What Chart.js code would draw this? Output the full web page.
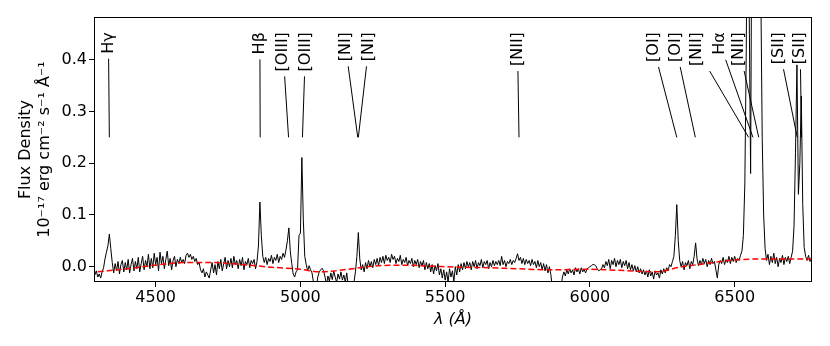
<!DOCTYPE html>
<html>
<head>
<meta charset="utf-8">
<script src="https://cdn.jsdelivr.net/npm/chart.js@4.4.1/dist/chart.umd.min.js"></script>
<style>
  html, body { margin: 0; padding: 0; background: #fff; }
  #wrap { width: 830px; height: 346px; position: relative; }
</style>
</head>
<body>
<div id="wrap"><canvas id="spec"></canvas></div>
<script>
// Spectrum sampled on a regular wavelength grid (Angstrom), 20 values per 100 A row
const WAVE_START = 4285;
const WAVE_STEP = 5;
const FLUX = [
  -0.012, -0.016, -0.008, -0.02, -0.014, -0.022, -0.01, -0.002, 0.015, 0.028, 0.04, 0.063, 0.035, 0.008, -0.012, 0.006, -0.008, 0.01, -0.014, 0.004,   // 4285
  0.012, -0.01, 0.008, -0.006, 0.014, -0.012, 0.004, 0.016, -0.008, 0.01, -0.004, 0.018, -0.01, 0.006, 0.02, -0.006, 0.012, 0.0, 0.024, -0.004,        // 4385
  0.016, -0.002, 0.026, 0.004, 0.018, -0.008, 0.028, 0.006, 0.02, -0.004, 0.014, 0.03, 0.002, 0.016, -0.006, 0.012, 0.02, 0.0, 0.014, 0.006,          // 4485
  0.018, 0.008, 0.014, 0.006, 0.022, 0.026, 0.018, 0.024, 0.014, 0.02, 0.01, 0.016, 0.004, 0.008, -0.006, -0.012, -0.004, -0.02, -0.01, -0.016,        // 4585
  -0.022, -0.006, 0.008, -0.012, 0.004, -0.016, 0.01, -0.004, 0.014, -0.008, 0.006, 0.018, -0.004, 0.012, 0.0, 0.016, -0.002, 0.02, 0.004, 0.012,      // 4685
  -0.004, 0.014, 0.002, 0.018, -0.006, 0.01, 0.004, 0.016, -0.002, 0.012, 0.006, 0.014, -0.004, 0.01, 0.04, 0.125, 0.06, 0.02, 0.008, 0.018,           // 4785
  0.004, 0.016, 0.01, 0.022, 0.006, 0.018, 0.012, 0.024, 0.008, 0.02, 0.014, 0.026, 0.018, 0.032, 0.05, 0.075, 0.03, 0.006, -0.014, -0.02,             // 4885
  -0.01, -0.006, 0.06, 0.065, 0.211, 0.09, 0.02, 0.004, -0.008, 0.002, -0.006, -0.012, -0.03, -0.045, -0.04, -0.02, -0.01, -0.006, -0.003, -0.008,     // 4985
  -0.02, -0.035, -0.018, -0.028, -0.012, -0.025, -0.008, -0.02, -0.03, -0.014, -0.024, -0.01, -0.026, -0.016, -0.03, -0.012, -0.035, -0.04, -0.028, -0.04, // 5085
  -0.03, -0.01, 0.02, 0.066, 0.015, -0.006, 0.004, -0.01, 0.008, -0.004, 0.012, 0.0, 0.01, -0.002, 0.014, 0.004, 0.016, 0.002, 0.018, 0.008,          // 5185
  0.02, 0.006, 0.022, 0.012, 0.018, 0.008, 0.024, 0.014, 0.02, 0.006, 0.016, 0.01, 0.022, 0.004, 0.014, 0.008, 0.018, 0.002, 0.012, 0.006,             // 5285
  0.016, 0.0, 0.012, 0.004, 0.014, -0.002, 0.01, 0.002, 0.012, -0.006, 0.008, -0.004, 0.006, -0.01, 0.004, -0.014, 0.002, -0.008, 0.006, -0.016,       // 5385
  -0.004, -0.022, -0.006, -0.026, -0.01, -0.03, -0.004, -0.02, -0.008, -0.028, 0.0, -0.016, 0.004, -0.01, 0.006, -0.006, 0.008, -0.004, 0.01, 0.0,     // 5485
  0.008, -0.006, 0.01, 0.0, 0.012, -0.004, 0.008, 0.002, 0.014, -0.002, 0.01, 0.004, 0.012, -0.004, 0.008, 0.0, 0.012, 0.002, 0.01, 0.004,             // 5585
  0.012, 0.002, 0.02, 0.004, 0.012, 0.0, 0.01, 0.006, 0.014, 0.004, 0.012, 0.008, 0.016, 0.025, 0.012, 0.018, 0.006, 0.016, 0.004, 0.014,              // 5685
  0.006, 0.012, 0.002, 0.014, 0.004, 0.01, -0.002, 0.012, 0.0, 0.008, -0.006, 0.006, -0.008, 0.004, -0.012, 0.0, -0.015, -0.04, -0.05, -0.05,          // 5785
  -0.05, -0.05, -0.045, -0.04, -0.02, -0.01, -0.018, -0.006, -0.014, -0.004, -0.012, -0.006, -0.016, -0.002, -0.01, -0.004, -0.014, -0.002, -0.01, -0.006, // 5885
  -0.012, -0.004, -0.002, 0.0, 0.002, 0.004, 0.004, 0.002, -0.004, -0.008, -0.006, -0.004, 0.004, -0.002, 0.01, 0.002, 0.014, -0.004, 0.012, 0.004,     // 5985
  0.016, 0.0, 0.012, 0.004, 0.014, -0.002, 0.01, 0.002, 0.012, -0.004, 0.008, -0.006, 0.004, -0.008, 0.002, -0.01, 0.0, -0.012, -0.004, -0.014,        // 6085
  -0.006, -0.016, -0.008, -0.02, -0.006, -0.018, -0.01, -0.024, -0.008, -0.016, -0.012, -0.022, -0.006, -0.014, -0.004, -0.012, -0.002, -0.008, 0.004, 0.0, // 6185
  0.01, 0.02, 0.06, 0.12, 0.05, 0.012, 0.0, 0.01, -0.006, 0.008, 0.002, 0.012, -0.004, 0.01, 0.004, 0.02, 0.046, 0.015, 0.002, 0.012,                  // 6285
  0.004, 0.016, 0.006, 0.014, 0.0, 0.012, 0.004, 0.016, 0.006, 0.01, -0.006, -0.022, 0.004, 0.012, 0.006, 0.018, 0.004, 0.014, 0.008, 0.02,             // 6385
  0.006, 0.018, 0.01, 0.02, 0.008, 0.016, 0.012, 0.022, 0.03, 0.06, 0.16, 0.42, 0.9, 0.5, 0.18, 0.8, 1.6, 1.8, 1.3, 1.0,                                // 6485
  1.1, 0.55, 0.25, 0.1, 0.035, 0.012, 0.024, 0.004, 0.02, 0.008, 0.026, 0.006, 0.018, 0.0, 0.016, 0.008, 0.022, 0.004, 0.018, 0.01,                     // 6585
  0.02, 0.006, 0.018, 0.03, 0.08, 0.22, 0.39, 0.14, 0.2, 0.33, 0.12, 0.037, 0.02, 0.012, 0.022, 0.01, 0.018, 0.014, 0.02, 0.015                        // 6685
];

// fitted continuum (red dashed)
const CONT_WAVE = [4300, 4400, 4500, 4600, 4700, 4800, 4900, 5000, 5070, 5150, 5250, 5350, 5450,
                   5550, 5650, 5750, 5870, 5990, 6100, 6230, 6310, 6400, 6500, 6600, 6770];
const CONT_FLUX = [-0.010, -0.004, 0.003, 0.008, 0.008, 0.004, -0.001, -0.005, -0.010, -0.006, 0.001, 0.003, 0.001,
                   -0.001, -0.002, -0.004, -0.006, -0.005, -0.007, -0.010, -0.001, 0.006, 0.013, 0.015, 0.015];

// emission line ids
const LINE_NAMES = ['Hγ', 'Hβ', '[OIII]', '[OIII]', '[NI]', '[NI]', '[NII]', '[OI]', '[OI]', '[NII]', 'Hα', '[NII]', '[SII]', '[SII]'];
const LINE_WAVES = [4340, 4861, 4959, 5007, 5198, 5200, 5755, 6300, 6364, 6548, 6563, 6583, 6716, 6731];
const LABEL_WAVES = [4337, 4860, 4940, 5017, 5156, 5236, 5750, 6219, 6297, 6369, 6449, 6516, 6654, 6726];

const X_TICKS = [4500, 5000, 5500, 6000, 6500];
const Y_TICKS = [0, 0.1, 0.2, 0.3, 0.4];
const X_MIN = 4287, X_MAX = 6767;
const Y_MIN = -0.0296, Y_MAX = 0.4826;

const LABEL_TOP = 0.4533;   // top of the rotated labels
const LEADER_END = 0.25;    // where the leader lines stop

Chart.defaults.font.family = '"DejaVu Sans", sans-serif';
Chart.defaults.font.size = 16;
Chart.defaults.color = '#000';

const specData = FLUX.map((f, i) => ({ x: WAVE_START + i * WAVE_STEP, y: f }));
const contData = CONT_WAVE.map((w, i) => ({ x: w, y: CONT_FLUX[i] }));

// labels, leader lines and the box around the axes
const lineLabels = {
    id: 'lineLabels',
    afterDatasetsDraw(chart) {
        const { ctx, chartArea, scales: { x, y } } = chart;
        ctx.save();
        ctx.font = '16px "DejaVu Sans"';
        ctx.fillStyle = '#000';
        ctx.strokeStyle = '#000';
        ctx.lineWidth = 1;
        const yTop = y.getPixelForValue(LABEL_TOP);
        const yEnd = y.getPixelForValue(LEADER_END);
        LINE_NAMES.forEach((name, i) => {
            const tx = x.getPixelForValue(LABEL_WAVES[i]);
            const lx = x.getPixelForValue(LINE_WAVES[i]);
            const w = ctx.measureText(name).width;
            const yc = yTop + w / 2;
            const yStart = yTop + w + 5;
            const t = (yStart - yc) / (yEnd - yc);
            const sx = tx + (lx - tx) * t;
            ctx.beginPath();
            ctx.moveTo(sx, yStart);
            ctx.lineTo(lx, yEnd);
            ctx.stroke();

            ctx.save();
            ctx.translate(tx, yTop);
            ctx.rotate(-Math.PI / 2);
            ctx.textAlign = 'right';
            ctx.textBaseline = 'middle';
            ctx.fillText(name, 0, 0);
            ctx.restore();
        });
        ctx.strokeRect(chartArea.left + 0.5, chartArea.top + 0.5, chartArea.width - 1, chartArea.height - 1);
        ctx.restore();
    }
};

const ctx = document.getElementById('spec').getContext('2d');
new Chart(ctx, {
    type: 'line',
    data: {
        datasets: [
            {
                label: 'continuum',
                data: contData,
                borderColor: '#ff0000',
                borderWidth: 1.5,
                borderDash: [6, 3],
                pointRadius: 0,
                cubicInterpolationMode: 'monotone'
            },
            {
                label: 'spectrum',
                data: specData,
                borderColor: '#000000',
                borderWidth: 1,
                pointRadius: 0,
                tension: 0
            }
        ]
    },
    options: {
        responsive: true,
        maintainAspectRatio: false,
        animation: false,
        layout: { padding: { left: 0, right: 18, top: 17, bottom: 0 } },
        plugins: {
            legend: { display: false },
            tooltip: { enabled: false }
        },
        scales: {
            x: {
                type: 'linear',
                min: X_MIN,
                max: X_MAX,
                afterBuildTicks: s => { s.ticks = X_TICKS.map(v => ({ value: v })); },
                afterFit: s => { s.height = 64; },
                ticks: { callback: v => String(v), color: '#000', padding: 1, maxRotation: 0 },
                grid: { drawOnChartArea: false, color: '#000', tickLength: 5, lineWidth: 1 },
                border: { display: false },
                title: { display: true, text: 'λ (Å)', color: '#000', font: { style: 'italic' }, padding: { top: 0, bottom: 17 } }
            },
            y: {
                min: Y_MIN,
                max: Y_MAX,
                afterBuildTicks: s => { s.ticks = Y_TICKS.map(v => ({ value: v })); },
                afterFit: s => { s.width = 94; },
                ticks: { callback: v => v.toFixed(1), color: '#000', padding: 2 },
                grid: { drawOnChartArea: false, color: '#000', tickLength: 5, lineWidth: 1 },
                border: { display: false },
                title: {
                    display: true,
                    text: ['Flux Density', '10⁻¹⁷ erg cm⁻² s⁻¹ Å⁻¹'],
                    color: '#000',
                    padding: { top: 16, bottom: 0 }
                }
            }
        }
    },
    plugins: [lineLabels]
});
</script>
</body>
</html>
